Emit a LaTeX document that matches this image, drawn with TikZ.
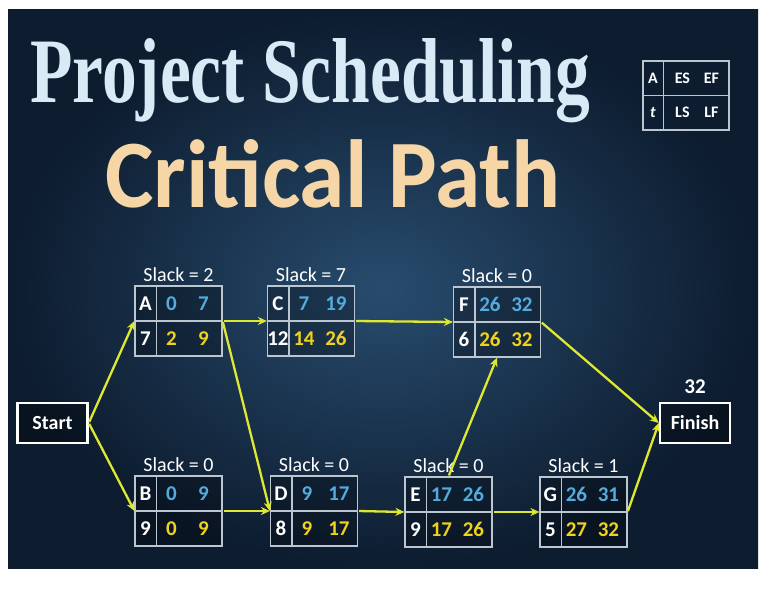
\documentclass[tikz,border=0pt]{standalone}
\usepackage{fontspec}
\setmainfont{Carlito}
\newfontfamily\headserif{Liberation Serif}
\usepackage{graphicx}
\usepackage{tikz}
\usetikzlibrary{arrows.meta}
\usetikzlibrary{positioning}
\usetikzlibrary{calc}
\definecolor{BgInner}{RGB}{40,76,110}
\definecolor{BgOuter}{RGB}{13,28,47}
\definecolor{ArrowColor}{RGB}{222,232,48}
\definecolor{BlueNum}{RGB}{84,172,222}
\definecolor{YellowNum}{RGB}{240,210,30}
\definecolor{GridColor}{RGB}{188,198,208}
\definecolor{TitleColor}{RGB}{216,234,246}
\definecolor{PathColor}{RGB}{246,214,166}
\tikzstyle{flow} = [line width=2.3pt, ArrowColor, shorten <=1pt, -{Stealth[length=9pt, width=8pt]}]
\tikzset{
  actbox/.style={draw=GridColor, line width=1.2pt, fill=black, fill opacity=0.25, minimum width=87pt, minimum height=70pt, inner sep=0pt},
  gridline/.style={GridColor, line width=1.2pt},
  numtext/.style={font=\fontsize{21}{24}\selectfont\bfseries, inner sep=0pt},
  slacktext/.style={font=\fontsize{20}{24}\selectfont, text=white, inner sep=1pt},
  endbox/.style={draw=white, line width=2.5pt, fill=black, fill opacity=0.3, text opacity=1, text=white, minimum width=70pt, minimum height=40pt, inner sep=0pt, font=\fontsize{20}{24}\selectfont\bfseries},
  legtext/.style={font=\fontsize{16}{18}\selectfont\bfseries, text=white, inner sep=0pt}
}

\begin{document}
\begin{tikzpicture}[x=1pt, y=-1pt]
  \useasboundingbox (0,0) rectangle (768,594);
  \fill[white] (0,0) rectangle (768,594);
  \shade[inner color=BgInner, outer color=BgOuter] (8,10) rectangle (758,568);

  % title
  \node[anchor=base west, inner sep=0pt, text=TitleColor] (title) at (30,102)
    {\resizebox{560pt}{64pt}{\headserif\bfseries Project Scheduling}};
  \node[anchor=base west, inner sep=0pt, text=PathColor] (subtitle) at (105,207)
    {\resizebox{455pt}{68pt}{\bfseries Critical Path}};

  % legend
  \node[draw=GridColor, line width=1.2pt, minimum width=86pt, minimum height=69pt, inner sep=0pt] (legend) at (686,95.5) {};
  \draw[gridline] (legend.west) -- (legend.east);
  \draw[gridline] ($(legend.north west)+(21,0)$) -- ($(legend.south west)+(21,0)$);
  \node[legtext] (leg-a) at ($(legend.west)+(10.5,-17)$) {A};
  \node[legtext] (leg-es) at ($(legend.west)+(40,-17)$) {ES};
  \node[legtext] (leg-ef) at ($(legend.west)+(69,-17)$) {EF};
  \node[legtext] (leg-t) at ($(legend.west)+(10.5,17)$) {\itshape t};
  \node[legtext] (leg-ls) at ($(legend.west)+(40,17)$) {LS};
  \node[legtext] (leg-lf) at ($(legend.west)+(69,17)$) {LF};

  % activities
  \foreach \n/\x/\y/\d/\es/\ef/\ls/\lf/\s in {A/178.5/321/7/0/7/2/9/2, C/311/321/12/7/19/14/26/7,
      F/497/322/6/26/32/26/32/0, B/178.5/511/9/0/9/0/9/0, D/314/511/8/9/17/9/17/0,
      E/448.5/512/9/17/26/17/26/0, G/583.5/512/5/26/31/27/32/1} {
    \node[actbox] (\n) at (\x,\y) {};
    \draw[gridline] (\n.west) -- (\n.east);
    \draw[gridline] ($(\n.north west)+(22,0)$) -- ($(\n.south west)+(22,0)$);
    \node[numtext, white] (\n-id) at ($(\n.west)+(11,-17.5)$) {\n};
    \node[numtext, white] (\n-t) at ($(\n.west)+(11,17.5)$) {\d};
    \node[numtext, BlueNum] (\n-es) at ($(\n.west)+(37,-17.5)$) {\es};
    \node[numtext, BlueNum] (\n-ef) at ($(\n.west)+(69,-17.5)$) {\ef};
    \node[numtext, YellowNum] (\n-ls) at ($(\n.west)+(37,17.5)$) {\ls};
    \node[numtext, YellowNum] (\n-lf) at ($(\n.west)+(69,17.5)$) {\lf};
    \node[slacktext, above=3pt of \n] (\n-slack) {Slack = \s};
  }

  \node[endbox] (start) at (52.5,423) {Start};
  \node[endbox] (finish) at (695,423) {Finish};
  \node[numtext, white, above=8pt of finish] (finish-time) {32};

  % connectors
  \draw[flow] (start.east) -- (A.west);
  \draw[flow] (start.east) -- (B.west);
  \draw[flow] (A.east) -- (C.west);
  \draw[flow] (A.east) -- (D.west);
  \draw[flow] (B.east) -- (D.west);
  \draw[flow] (C.east) -- (F.west);
  \draw[flow] (D.east) -- (E.west);
  \draw[flow] (E.north) -- (F.south);
  \draw[flow] (E.east) -- (G.west);
  \draw[flow] (F.east) -- (finish.west);
  \draw[flow] (G.east) -- (finish.west);
\end{tikzpicture}
\end{document}
